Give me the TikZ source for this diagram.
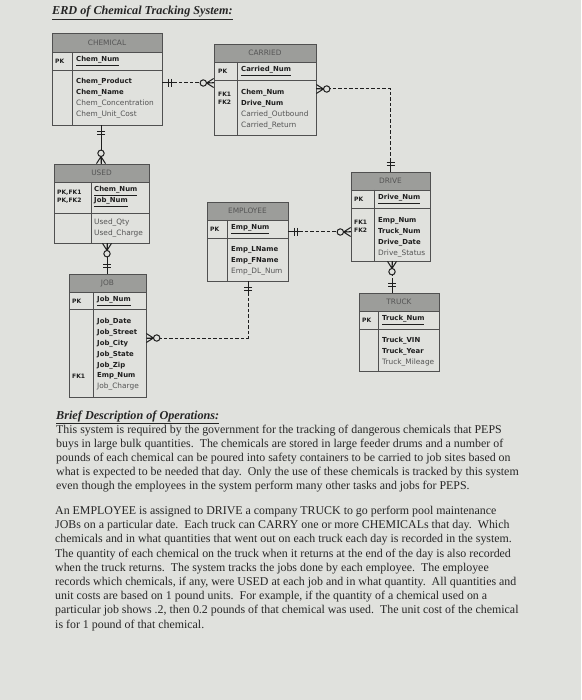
\documentclass[tikz,border=0pt]{standalone}
\usepackage{fontspec}
\setmainfont{Liberation Serif}
\newfontfamily\erfont{DejaVu Sans}
\usetikzlibrary{fit}
\definecolor{paper}{RGB}{224,225,221}
\definecolor{headgray}{RGB}{156,157,154}
\definecolor{linegray}{RGB}{80,80,80}
\definecolor{txtdark}{RGB}{30,30,30}
\definecolor{txtlight}{RGB}{85,85,85}
\newcommand\bfattr[1]{\textcolor{txtdark}{\fontsize{6.9}{8}\selectfont\bfseries #1}}
\newcommand\ertab[9]{%
  \fill[headgray] (#2,#3) rectangle (#4,#6);
  \node[tabbox, fit={(#2,#3) (#4,#5)}] (#1) {};
  \draw[tabline] (#2,#6) -- (#4,#6) (#2,#7) -- (#4,#7) (#8,#6) -- (#8,#5);
  \node[headtxt] (#1-title) at ({(#2+#4)/2},{(#3+#6)/2}) {#9};}
\newcommand\attrlist[4]{%
  \foreach \t [count=\i] in {#4} \node[attr] (#1-a\i) at (#2,{#3+(\i-1)*10.8}) {\t};}
\begin{document}
\begin{tikzpicture}[x=1pt,y=-1pt,
  tabbox/.style={draw=linegray, line width=0.8pt, inner sep=0pt},
  tabline/.style={draw=linegray, line width=0.8pt},
  headtxt/.style={inner sep=0pt, font=\erfont\fontsize{7.4}{8}\selectfont, text=txtlight},
  attr/.style={anchor=west, inner sep=0pt, font=\erfont\fontsize{7.4}{8}\selectfont, text=txtlight},
  keylab/.style={anchor=west, inner sep=0pt, font=\erfont\bfseries\fontsize{6}{7}\selectfont, text=txtdark, align=left},
  pkfield/.style={anchor=west, inner sep=0pt, font=\erfont\bfseries\fontsize{6.9}{8}\selectfont, text=txtdark, align=left},
  conn/.style={draw=txtdark, line width=1pt, dash pattern=on 3.5pt off 2pt},
  solidconn/.style={draw=txtdark, line width=1pt},
  bodyline/.style={anchor=base west, inner sep=0pt, font=\fontsize{11.9}{14}\selectfont, text=black!85},
  headline/.style={anchor=base west, inner sep=0pt, font=\bfseries\itshape\fontsize{12.2}{14}\selectfont, text=black!85},
  pics/oneone/.style={code={
    \draw[solidconn] (0,0) -- (13,0);
    \draw[solidconn] (6,-4) -- (6,4) (9.5,-4) -- (9.5,4);}},
  pics/zeromany/.style={code={
    \draw[solidconn] (0,-4.5) -- (7,0) -- (0,4.5) (0,0) -- (7,0);
    \draw[solidconn, fill=paper] (10.3,0) circle [radius=3.2pt];}}
]
\fill[paper] (0,0) rectangle (581,700);
\useasboundingbox (0,0) rectangle (581,700);

% title
\node[headline] (title) at (52,15) {\underline{ERD of Chemical Tracking System:}};

% tables
\ertab{chem}{52}{33}{162}{125}{52}{70}{72}{CHEMICAL}
\ertab{carried}{214}{44}{316}{135}{62}{80}{237}{CARRIED}
\ertab{used}{54}{164}{149}{243}{182}{213}{91}{USED}
\ertab{emp}{207}{202}{288}{281}{220}{238}{227}{EMPLOYEE}
\ertab{drive}{351}{172}{430}{261}{190}{208}{374}{DRIVE}
\ertab{job}{69}{274}{146}{397}{292}{309}{93}{JOB}
\ertab{truck}{359}{293}{439}{371}{311}{329}{378}{TRUCK}

% CHEMICAL
\node[keylab] (chem-k) at (55,61) {PK};
\node[pkfield] (chem-pk) at (76,61) {\underline{Chem\_Num}};
\attrlist{chem}{76}{82}{\bfattr{Chem\_Product},\bfattr{Chem\_Name},Chem\_Concentration,Chem\_Unit\_Cost}

% CARRIED
\node[keylab] (carried-k) at (218,71) {PK};
\node[pkfield] (carried-pk) at (241,71) {\underline{Carried\_Num}};
\node[keylab] (carried-fk) at (218,98.4) {FK1\\[1.2pt]FK2};
\attrlist{carried}{241}{93}{\bfattr{Chem\_Num},\bfattr{Drive\_Num},Carried\_Outbound,Carried\_Return}

% USED
\node[keylab] (used-k) at (57,196.5) {PK,FK1\\[1.2pt]PK,FK2};
\node[pkfield] (used-pk) at (94,196.5) {\underline{Chem\_Num}\\[1.2pt]\underline{Job\_Num}};
\attrlist{used}{94}{223}{Used\_Qty,Used\_Charge}

% EMPLOYEE
\node[keylab] (emp-k) at (210,229) {PK};
\node[pkfield] (emp-pk) at (231,229) {\underline{Emp\_Num}};
\attrlist{emp}{231}{250}{\bfattr{Emp\_LName},\bfattr{Emp\_FName},Emp\_DL\_Num}

% DRIVE
\node[keylab] (drive-k) at (354,199) {PK};
\node[pkfield] (drive-pk) at (378,199) {\underline{Drive\_Num}};
\node[keylab] (drive-fk) at (354,226.4) {FK1\\[1.2pt]FK2};
\attrlist{drive}{378}{221}{\bfattr{Emp\_Num},\bfattr{Truck\_Num},\bfattr{Drive\_Date},Drive\_Status}

% JOB
\node[keylab] (job-k) at (72,301) {PK};
\node[pkfield] (job-pk) at (97,301) {\underline{Job\_Num}};
\attrlist{job}{97}{322}{\bfattr{Job\_Date},\bfattr{Job\_Street},\bfattr{Job\_City},\bfattr{Job\_State},\bfattr{Job\_Zip},\bfattr{Emp\_Num},Job\_Charge}
\node[keylab] (job-fk) at (72,376) {FK1};

% TRUCK
\node[keylab] (truck-k) at (362,320) {PK};
\node[pkfield] (truck-pk) at (382,320) {\underline{Truck\_Num}};
\attrlist{truck}{382}{341}{\bfattr{Truck\_VIN},\bfattr{Truck\_Year},Truck\_Mileage}

% connectors
\draw[conn] (chem.east |- 0,83) -- (carried.west |- 0,83);
\pic at (chem.east |- 0,83) {oneone};
\pic[rotate=180] at (carried.west |- 0,83) {zeromany};

\draw[conn] (carried.east |- 0,89) -| (drive.north);
\pic at (carried.east |- 0,89) {zeromany};
\pic[rotate=90] at (drive.north) {oneone};

\draw[conn] (emp.east |- 0,232) -- (drive.west |- 0,232);
\pic at (emp.east |- 0,232) {oneone};
\pic[rotate=180] at (drive.west |- 0,232) {zeromany};

\draw[conn] (drive.south -| 392,0) -- (truck.north -| 392,0);
\pic[rotate=-90] at (drive.south -| 392,0) {zeromany};
\pic[rotate=90] at (truck.north -| 392,0) {oneone};

\draw[solidconn] (chem.south -| 101,0) -- (used.north -| 101,0);
\pic[rotate=-90] at (chem.south -| 101,0) {oneone};
\pic[rotate=90] at (used.north -| 101,0) {zeromany};

\draw[solidconn] (used.south -| 107,0) -- (job.north -| 107,0);
\pic[rotate=-90] at (used.south -| 107,0) {zeromany};
\pic[rotate=90] at (job.north -| 107,0) {oneone};

\draw[conn] (emp.south -| 248,0) |- (job.east |- 0,338);
\pic[rotate=-90] at (emp.south -| 248,0) {oneone};
\pic at (job.east |- 0,338) {zeromany};

% description
\node[headline] (desc) at (56,419) {\underline{Brief Description of Operations:}};
\node[bodyline] (p1l1) at (56,433) {This system is required by the government for the tracking of dangerous chemicals that PEPS};
\node[bodyline] (p1l2) at (56,447) {buys in large bulk quantities.\ \ The chemicals are stored in large feeder drums and a number of};
\node[bodyline] (p1l3) at (56,461) {pounds of each chemical can be poured into safety containers to be carried to job sites based on};
\node[bodyline] (p1l4) at (56,475) {what is expected to be needed that day.\ \ Only the use of these chemicals is tracked by this system};
\node[bodyline] (p1l5) at (56,489) {even though the employees in the system perform many other tasks and jobs for PEPS.};

\node[bodyline] (p2l1) at (55,514) {An EMPLOYEE is assigned to DRIVE a company TRUCK to go perform pool maintenance};
\node[bodyline] (p2l2) at (55,528) {JOBs on a particular date.\ \ Each truck can CARRY one or more CHEMICALs that day.\ \ Which};
\node[bodyline] (p2l3) at (55,542) {chemicals and in what quantities that went out on each truck each day is recorded in the system.};
\node[bodyline] (p2l4) at (55,557) {The quantity of each chemical on the truck when it returns at the end of the day is also recorded};
\node[bodyline] (p2l5) at (55,571) {when the truck returns.\ \ The system tracks the jobs done by each employee.\ \ The employee};
\node[bodyline] (p2l6) at (55,585) {records which chemicals, if any, were USED at each job and in what quantity.\ \ All quantities and};
\node[bodyline] (p2l7) at (55,599) {unit costs are based on 1 pound units.\ \ For example, if the quantity of a chemical used on a};
\node[bodyline] (p2l8) at (55,613) {particular job shows .2, then 0.2 pounds of that chemical was used.\ \ The unit cost of the chemical};
\node[bodyline] (p2l9) at (55,628) {is for 1 pound of that chemical.};
\end{tikzpicture}
\end{document}
